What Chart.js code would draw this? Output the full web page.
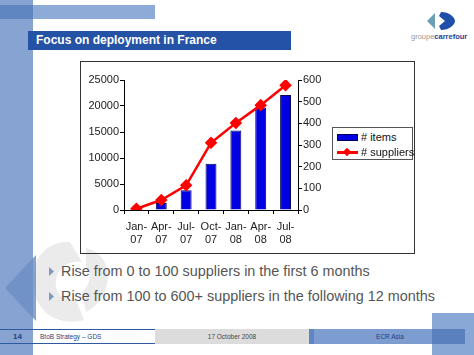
<!DOCTYPE html>
<html>
<head>
<meta charset="utf-8">
<script src="https://cdn.jsdelivr.net/npm/chart.js@4/dist/chart.umd.min.js"></script>
<style>
  body { margin: 0; width: 474px; height: 355px; overflow: hidden; position: relative; background: #fff;
         font-family: "Liberation Sans", Arial, sans-serif; }
  .abs { position: absolute; }
  #legend { position: absolute; left: 332px; top: 127px; width: 81px; height: 33px; box-sizing: border-box;
            border: 1px solid #555; background: #fff; font-size: 11px; color: #111; }
  #legend .row { position: absolute; left: 4px; height: 14px; line-height: 14px; white-space: nowrap; }
  #legend .sw { display: inline-block; width: 21px; height: 14px; position: relative; vertical-align: top; margin-right: 3px; }
  .bullet { position: absolute; left: 61px; font-size: 14.4px; color: #555; white-space: nowrap; }
</style>
</head>
<body>
<!-- slide decoration -->
<div class="abs" style="left:0;top:0;width:33px;height:355px;background:#86a3d1"></div>
<div class="abs" style="left:33px;top:5px;width:122px;height:14px;background:#8eabd7"></div>
<div class="abs" style="left:0;top:5px;width:33px;height:14px;background:#5f86c0"></div>
<svg class="abs" style="left:0;top:230px" width="130" height="100">
  <path d="M70 12 C40 10 28 40 34 62 C40 86 62 96 84 90 L76 70 C62 72 54 62 56 50 C58 36 70 30 82 32 Z" fill="#e2e2e2" opacity="0.7"/>
  <path d="M86 18 C104 22 112 40 106 58 C102 70 94 78 86 82 L82 62 C90 56 92 44 86 36 Z" fill="#e2e2e2" opacity="0.7"/>
  <polygon points="5,58 36,25 36,91" fill="#6a8dc4" opacity="0.8"/>
</svg>

<div class="abs" style="left:28px;top:31px;width:263px;height:19px;background:#2452a4"></div>
<div class="abs" style="left:36px;top:31px;height:19px;line-height:19px;color:#fff;font-weight:bold;font-size:12px">Focus on deployment in France</div>

<!-- logo -->
<svg class="abs" style="left:405px;top:8px" width="69" height="36">
  <path d="M30 5 L22 13 L30 21 Z" fill="#6aa0b4"/>
  <path d="M36 4 C44 4 50 9 50 13 C50 17 44 22 36 22 L34 18 L40 13 L34 8 Z" fill="#1f4fa8"/>
  <text x="6" y="31" font-size="7.5" fill="#999" font-family="Liberation Sans, Arial">groupe<tspan fill="#1f3f8f" font-weight="bold">carrefour</tspan></text>
</svg>

<!-- chart -->
<div class="abs" style="left:80px;top:61px;width:335px;height:193px;box-sizing:border-box;border:1px solid #333"></div>
<div class="abs" style="left:81px;top:62px;width:333px;height:191px">
  <canvas id="chart" width="333" height="191"></canvas>
</div>
<div id="legend"></div>

<svg class="abs" style="left:48px;top:266px" width="8" height="36">
  <polygon points="1,1 6,5.5 1,10" fill="#7f9bbd"/>
  <polygon points="1,26 6,30.5 1,35" fill="#7f9bbd"/>
</svg>
<div class="bullet" style="top:263px">Rise from 0 to 100 suppliers in the first 6 months</div>
<div class="bullet" style="top:288px">Rise from 100 to 600+ suppliers in the following 12 months</div>

<!-- footer -->
<div class="abs" style="left:432px;top:313px;width:42px;height:42px;background:#8aa8d6"></div>
<div class="abs" style="left:0;top:329px;width:155px;height:15px;border-top:1px solid #2d5aa0;border-bottom:1px solid #2d5aa0;box-sizing:border-box"></div>
<div class="abs" style="left:33px;top:330px;width:122px;height:13px;background:#fff"></div>
<div class="abs" style="left:155px;top:329px;width:154px;height:15px;background:#dcdcdc"></div>
<div class="abs" style="left:309px;top:329px;width:156px;height:15px;background:#7d9dd0"></div>
<div class="abs" style="left:309px;top:329px;width:5px;height:15px;background:#5f86c2"></div>
<div class="abs" style="left:432px;top:329px;width:33px;height:15px;background:#5a80bd"></div>
<div class="abs" style="left:13px;top:329px;line-height:15px;font-size:8px;font-weight:bold;color:#1f3f7f">14</div>
<div class="abs" style="left:40px;top:329px;line-height:15px;font-size:6.5px;color:#1f3f7f">BtoB Strategy – GDS</div>
<div class="abs" style="left:155px;top:329px;width:154px;text-align:center;line-height:15px;font-size:6.5px;color:#444">17 October 2008</div>
<div class="abs" style="left:320px;top:329px;width:140px;text-align:center;line-height:15px;font-size:6.5px;color:#1f3f7f">ECR Asia</div>

<script>
const months = [["Jan-", "07"], ["Apr-", "07"], ["Jul-", "07"], ["Oct-", "07"], ["Jan-", "08"], ["Apr-", "08"], ["Jul-", "08"]];
const items = [200, 1350, 3800, 8900, 15300, 19700, 22100];
const suppliers = [6, 46, 114, 310, 402, 484, 576];
const itemTicks = [0, 5000, 10000, 15000, 20000, 25000];
const supplierTicks = [0, 100, 200, 300, 400, 500, 600];

const blue = "#0000e2";
const red = "#ff0000";

// axes look the same on both sides, just ticks out and no grid
function axisGrid() {
  return { display: true, drawOnChartArea: false, drawTicks: true, tickLength: 4, color: "#000", lineWidth: 1 };
}
const tickFont = { size: 11, family: "Liberation Sans, Arial" };

const chart = new Chart(document.getElementById("chart"), {
  data: {
    labels: months,
    datasets: [
      {
        type: "bar",
        label: "# items",
        data: items,
        yAxisID: "y",
        backgroundColor: blue,
        borderColor: "#00005a",
        borderWidth: 1,
        barPercentage: 0.44,
        categoryPercentage: 1,
        order: 2,
      },
      {
        type: "line",
        label: "# suppliers",
        data: suppliers,
        yAxisID: "y1",
        borderColor: red,
        backgroundColor: red,
        borderWidth: 2.5,
        pointStyle: "rectRot",
        pointRadius: 4.5,
        tension: 0,
        order: 1,
      },
    ],
  },
  options: {
    responsive: false,
    animation: false,
    layout: { padding: { top: 18, left: 0, right: 0, bottom: 0 } },
    plugins: { legend: { display: false }, tooltip: { enabled: false } },
    scales: {
      x: {
        grid: axisGrid(),
        border: { color: "#000", width: 1 },
        ticks: { color: "#222", font: tickFont, padding: 6, maxRotation: 0 },
        afterFit: (s) => { s.height = 43; },
      },
      y: {
        position: "left",
        min: 0,
        max: 25000,
        afterBuildTicks: (s) => { s.ticks = itemTicks.map((v) => ({ value: v })); },
        grid: axisGrid(),
        border: { color: "#000", width: 1 },
        ticks: { color: "#222", font: tickFont, padding: 1, callback: (v) => String(v) },
        afterFit: (s) => { s.width = 43; },
      },
      y1: {
        position: "right",
        min: 0,
        max: 600,
        afterBuildTicks: (s) => { s.ticks = supplierTicks.map((v) => ({ value: v })); },
        grid: axisGrid(),
        border: { color: "#000", width: 1 },
        ticks: { color: "#222", font: tickFont, padding: 1, callback: (v) => String(v) },
        afterFit: (s) => { s.width = 116; },
      },
    },
  },
});

// legend box built from the datasets
const legend = document.getElementById("legend");
chart.data.datasets.forEach((ds, i) => {
  const row = document.createElement("div");
  row.className = "row";
  row.style.top = (2 + i * 15) + "px";
  const sw = document.createElement("span");
  sw.className = "sw";
  if (ds.type === "bar") {
    sw.innerHTML = '<span style="position:absolute;left:0;top:4px;width:19px;height:5px;background:' + ds.backgroundColor + ';border:1px solid ' + ds.borderColor + '"></span>';
  } else {
    sw.innerHTML = '<span style="position:absolute;left:0;top:6px;width:21px;height:2.5px;background:' + ds.borderColor + '"></span>' +
      '<span style="position:absolute;left:7px;top:4px;width:6px;height:6px;background:' + ds.borderColor + ';transform:rotate(45deg)"></span>';
  }
  row.appendChild(sw);
  row.appendChild(document.createTextNode(ds.label));
  legend.appendChild(row);
});
</script>
</body>
</html>
